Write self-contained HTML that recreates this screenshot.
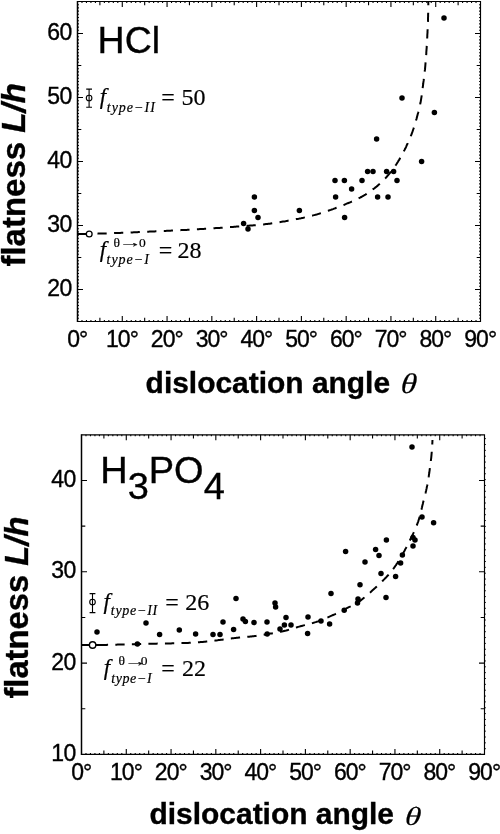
<!DOCTYPE html>
<html lang="en"><head><meta charset="utf-8"><title>flatness vs dislocation angle</title>
<style>
html,body{margin:0;padding:0;background:#fff;}
body{width:500px;height:834px;overflow:hidden;}
svg{display:block;}
text{fill:#000;stroke:#000;stroke-width:0.35px;}
.serif, .serif text{font-family:"Liberation Serif","Times New Roman",Times,serif;stroke-width:0.2px;}
</style></head><body>
<svg width="500" height="834" viewBox="0 0 500 834" font-family='"Liberation Sans", Arial, Helvetica, sans-serif'>
<rect width="500" height="834" fill="#fff"/>
<g id="top">
<path d="M81.98 321.50v-1.4M81.98 1.50v1.4M86.46 321.50v-1.4M86.46 1.50v1.4M90.93 321.50v-1.4M90.93 1.50v1.4M95.41 321.50v-1.4M95.41 1.50v1.4M99.89 321.50v-3.8M99.89 1.50v3.8M104.37 321.50v-1.4M104.37 1.50v1.4M108.84 321.50v-1.4M108.84 1.50v1.4M113.32 321.50v-1.4M113.32 1.50v1.4M117.80 321.50v-1.4M117.80 1.50v1.4M122.28 321.50v-5.5M122.28 1.50v5.5M126.76 321.50v-1.4M126.76 1.50v1.4M131.23 321.50v-1.4M131.23 1.50v1.4M135.71 321.50v-1.4M135.71 1.50v1.4M140.19 321.50v-1.4M140.19 1.50v1.4M144.67 321.50v-3.8M144.67 1.50v3.8M149.14 321.50v-1.4M149.14 1.50v1.4M153.62 321.50v-1.4M153.62 1.50v1.4M158.10 321.50v-1.4M158.10 1.50v1.4M162.58 321.50v-1.4M162.58 1.50v1.4M167.06 321.50v-5.5M167.06 1.50v5.5M171.53 321.50v-1.4M171.53 1.50v1.4M176.01 321.50v-1.4M176.01 1.50v1.4M180.49 321.50v-1.4M180.49 1.50v1.4M184.97 321.50v-1.4M184.97 1.50v1.4M189.44 321.50v-3.8M189.44 1.50v3.8M193.92 321.50v-1.4M193.92 1.50v1.4M198.40 321.50v-1.4M198.40 1.50v1.4M202.88 321.50v-1.4M202.88 1.50v1.4M207.36 321.50v-1.4M207.36 1.50v1.4M211.83 321.50v-5.5M211.83 1.50v5.5M216.31 321.50v-1.4M216.31 1.50v1.4M220.79 321.50v-1.4M220.79 1.50v1.4M225.27 321.50v-1.4M225.27 1.50v1.4M229.74 321.50v-1.4M229.74 1.50v1.4M234.22 321.50v-3.8M234.22 1.50v3.8M238.70 321.50v-1.4M238.70 1.50v1.4M243.18 321.50v-1.4M243.18 1.50v1.4M247.66 321.50v-1.4M247.66 1.50v1.4M252.13 321.50v-1.4M252.13 1.50v1.4M256.61 321.50v-5.5M256.61 1.50v5.5M261.09 321.50v-1.4M261.09 1.50v1.4M265.57 321.50v-1.4M265.57 1.50v1.4M270.04 321.50v-1.4M270.04 1.50v1.4M274.52 321.50v-1.4M274.52 1.50v1.4M279.00 321.50v-3.8M279.00 1.50v3.8M283.48 321.50v-1.4M283.48 1.50v1.4M287.96 321.50v-1.4M287.96 1.50v1.4M292.43 321.50v-1.4M292.43 1.50v1.4M296.91 321.50v-1.4M296.91 1.50v1.4M301.39 321.50v-5.5M301.39 1.50v5.5M305.87 321.50v-1.4M305.87 1.50v1.4M310.34 321.50v-1.4M310.34 1.50v1.4M314.82 321.50v-1.4M314.82 1.50v1.4M319.30 321.50v-1.4M319.30 1.50v1.4M323.78 321.50v-3.8M323.78 1.50v3.8M328.26 321.50v-1.4M328.26 1.50v1.4M332.73 321.50v-1.4M332.73 1.50v1.4M337.21 321.50v-1.4M337.21 1.50v1.4M341.69 321.50v-1.4M341.69 1.50v1.4M346.17 321.50v-5.5M346.17 1.50v5.5M350.64 321.50v-1.4M350.64 1.50v1.4M355.12 321.50v-1.4M355.12 1.50v1.4M359.60 321.50v-1.4M359.60 1.50v1.4M364.08 321.50v-1.4M364.08 1.50v1.4M368.56 321.50v-3.8M368.56 1.50v3.8M373.03 321.50v-1.4M373.03 1.50v1.4M377.51 321.50v-1.4M377.51 1.50v1.4M381.99 321.50v-1.4M381.99 1.50v1.4M386.47 321.50v-1.4M386.47 1.50v1.4M390.94 321.50v-5.5M390.94 1.50v5.5M395.42 321.50v-1.4M395.42 1.50v1.4M399.90 321.50v-1.4M399.90 1.50v1.4M404.38 321.50v-1.4M404.38 1.50v1.4M408.86 321.50v-1.4M408.86 1.50v1.4M413.33 321.50v-3.8M413.33 1.50v3.8M417.81 321.50v-1.4M417.81 1.50v1.4M422.29 321.50v-1.4M422.29 1.50v1.4M426.77 321.50v-1.4M426.77 1.50v1.4M431.24 321.50v-1.4M431.24 1.50v1.4M435.72 321.50v-5.5M435.72 1.50v5.5M440.20 321.50v-1.4M440.20 1.50v1.4M444.68 321.50v-1.4M444.68 1.50v1.4M449.16 321.50v-1.4M449.16 1.50v1.4M453.63 321.50v-1.4M453.63 1.50v1.4M458.11 321.50v-3.8M458.11 1.50v3.8M462.59 321.50v-1.4M462.59 1.50v1.4M467.07 321.50v-1.4M467.07 1.50v1.4M471.54 321.50v-1.4M471.54 1.50v1.4M476.02 321.50v-1.4M476.02 1.50v1.4M77.50 318.30h1.4M480.50 318.30h-1.4M77.50 315.10h1.4M480.50 315.10h-1.4M77.50 311.90h1.4M480.50 311.90h-1.4M77.50 308.70h1.4M480.50 308.70h-1.4M77.50 305.50h1.4M480.50 305.50h-1.4M77.50 302.30h1.4M480.50 302.30h-1.4M77.50 299.10h1.4M480.50 299.10h-1.4M77.50 295.90h1.4M480.50 295.90h-1.4M77.50 292.70h1.4M480.50 292.70h-1.4M77.50 289.50h5.5M480.50 289.50h-5.5M77.50 286.30h1.4M480.50 286.30h-1.4M77.50 283.10h1.4M480.50 283.10h-1.4M77.50 279.90h1.4M480.50 279.90h-1.4M77.50 276.70h1.4M480.50 276.70h-1.4M77.50 273.50h1.4M480.50 273.50h-1.4M77.50 270.30h1.4M480.50 270.30h-1.4M77.50 267.10h1.4M480.50 267.10h-1.4M77.50 263.90h1.4M480.50 263.90h-1.4M77.50 260.70h1.4M480.50 260.70h-1.4M77.50 257.50h3.8M480.50 257.50h-3.8M77.50 254.30h1.4M480.50 254.30h-1.4M77.50 251.10h1.4M480.50 251.10h-1.4M77.50 247.90h1.4M480.50 247.90h-1.4M77.50 244.70h1.4M480.50 244.70h-1.4M77.50 241.50h1.4M480.50 241.50h-1.4M77.50 238.30h1.4M480.50 238.30h-1.4M77.50 235.10h1.4M480.50 235.10h-1.4M77.50 231.90h1.4M480.50 231.90h-1.4M77.50 228.70h1.4M480.50 228.70h-1.4M77.50 225.50h5.5M480.50 225.50h-5.5M77.50 222.30h1.4M480.50 222.30h-1.4M77.50 219.10h1.4M480.50 219.10h-1.4M77.50 215.90h1.4M480.50 215.90h-1.4M77.50 212.70h1.4M480.50 212.70h-1.4M77.50 209.50h1.4M480.50 209.50h-1.4M77.50 206.30h1.4M480.50 206.30h-1.4M77.50 203.10h1.4M480.50 203.10h-1.4M77.50 199.90h1.4M480.50 199.90h-1.4M77.50 196.70h1.4M480.50 196.70h-1.4M77.50 193.50h3.8M480.50 193.50h-3.8M77.50 190.30h1.4M480.50 190.30h-1.4M77.50 187.10h1.4M480.50 187.10h-1.4M77.50 183.90h1.4M480.50 183.90h-1.4M77.50 180.70h1.4M480.50 180.70h-1.4M77.50 177.50h1.4M480.50 177.50h-1.4M77.50 174.30h1.4M480.50 174.30h-1.4M77.50 171.10h1.4M480.50 171.10h-1.4M77.50 167.90h1.4M480.50 167.90h-1.4M77.50 164.70h1.4M480.50 164.70h-1.4M77.50 161.50h5.5M480.50 161.50h-5.5M77.50 158.30h1.4M480.50 158.30h-1.4M77.50 155.10h1.4M480.50 155.10h-1.4M77.50 151.90h1.4M480.50 151.90h-1.4M77.50 148.70h1.4M480.50 148.70h-1.4M77.50 145.50h1.4M480.50 145.50h-1.4M77.50 142.30h1.4M480.50 142.30h-1.4M77.50 139.10h1.4M480.50 139.10h-1.4M77.50 135.90h1.4M480.50 135.90h-1.4M77.50 132.70h1.4M480.50 132.70h-1.4M77.50 129.50h3.8M480.50 129.50h-3.8M77.50 126.30h1.4M480.50 126.30h-1.4M77.50 123.10h1.4M480.50 123.10h-1.4M77.50 119.90h1.4M480.50 119.90h-1.4M77.50 116.70h1.4M480.50 116.70h-1.4M77.50 113.50h1.4M480.50 113.50h-1.4M77.50 110.30h1.4M480.50 110.30h-1.4M77.50 107.10h1.4M480.50 107.10h-1.4M77.50 103.90h1.4M480.50 103.90h-1.4M77.50 100.70h1.4M480.50 100.70h-1.4M77.50 97.50h5.5M480.50 97.50h-5.5M77.50 94.30h1.4M480.50 94.30h-1.4M77.50 91.10h1.4M480.50 91.10h-1.4M77.50 87.90h1.4M480.50 87.90h-1.4M77.50 84.70h1.4M480.50 84.70h-1.4M77.50 81.50h1.4M480.50 81.50h-1.4M77.50 78.30h1.4M480.50 78.30h-1.4M77.50 75.10h1.4M480.50 75.10h-1.4M77.50 71.90h1.4M480.50 71.90h-1.4M77.50 68.70h1.4M480.50 68.70h-1.4M77.50 65.50h3.8M480.50 65.50h-3.8M77.50 62.30h1.4M480.50 62.30h-1.4M77.50 59.10h1.4M480.50 59.10h-1.4M77.50 55.90h1.4M480.50 55.90h-1.4M77.50 52.70h1.4M480.50 52.70h-1.4M77.50 49.50h1.4M480.50 49.50h-1.4M77.50 46.30h1.4M480.50 46.30h-1.4M77.50 43.10h1.4M480.50 43.10h-1.4M77.50 39.90h1.4M480.50 39.90h-1.4M77.50 36.70h1.4M480.50 36.70h-1.4M77.50 33.50h5.5M480.50 33.50h-5.5M77.50 30.30h1.4M480.50 30.30h-1.4M77.50 27.10h1.4M480.50 27.10h-1.4M77.50 23.90h1.4M480.50 23.90h-1.4M77.50 20.70h1.4M480.50 20.70h-1.4M77.50 17.50h1.4M480.50 17.50h-1.4M77.50 14.30h1.4M480.50 14.30h-1.4M77.50 11.10h1.4M480.50 11.10h-1.4M77.50 7.90h1.4M480.50 7.90h-1.4M77.50 4.70h1.4M480.50 4.70h-1.4" stroke="#000" stroke-width="1.1" fill="none"/>
<path d="M77.5 1.5H480.5V321.5H77.5" fill="none" stroke="#000" stroke-width="1.15"/>
<path d="M77.5 0.9V322.1" fill="none" stroke="#000" stroke-width="1.5"/>
<text x="77.20" y="346.50" font-size="23" text-anchor="middle" letter-spacing="-1">0°</text>
<text x="121.98" y="346.50" font-size="23" text-anchor="middle" letter-spacing="-1">10°</text>
<text x="166.76" y="346.50" font-size="23" text-anchor="middle" letter-spacing="-1">20°</text>
<text x="211.53" y="346.50" font-size="23" text-anchor="middle" letter-spacing="-1">30°</text>
<text x="256.31" y="346.50" font-size="23" text-anchor="middle" letter-spacing="-1">40°</text>
<text x="301.09" y="346.50" font-size="23" text-anchor="middle" letter-spacing="-1">50°</text>
<text x="345.87" y="346.50" font-size="23" text-anchor="middle" letter-spacing="-1">60°</text>
<text x="390.64" y="346.50" font-size="23" text-anchor="middle" letter-spacing="-1">70°</text>
<text x="435.42" y="346.50" font-size="23" text-anchor="middle" letter-spacing="-1">80°</text>
<text x="480.20" y="346.50" font-size="23" text-anchor="middle" letter-spacing="-1">90°</text>
<text x="71.50" y="296.10" font-size="23" text-anchor="end" letter-spacing="-0.7">20</text>
<text x="71.50" y="232.10" font-size="23" text-anchor="end" letter-spacing="-0.7">30</text>
<text x="71.50" y="168.10" font-size="23" text-anchor="end" letter-spacing="-0.7">40</text>
<text x="71.50" y="104.10" font-size="23" text-anchor="end" letter-spacing="-0.7">50</text>
<text x="71.50" y="40.10" font-size="23" text-anchor="end" letter-spacing="-0.7">60</text>
<path d="M92.0 233.8 L93.2 233.8 L94.5 233.7 L95.7 233.7 L96.9 233.7 L98.1 233.6 L99.4 233.6 L100.6 233.6 L101.8 233.5 L103.0 233.5 L104.3 233.4 L105.5 233.4 L106.7 233.4 L108.0 233.3 L109.2 233.3 L110.4 233.2 L111.6 233.2 L112.9 233.2 L114.1 233.1 L115.3 233.1 L116.5 233.0 L117.8 233.0 L119.0 232.9 L120.2 232.9 L121.4 232.8 L122.7 232.8 L123.9 232.8 L125.1 232.7 L126.4 232.7 L127.6 232.6 L128.8 232.5 L130.0 232.5 L131.3 232.4 L132.5 232.4 L133.7 232.3 L134.9 232.3 L136.2 232.2 L137.4 232.2 L138.6 232.1 L139.8 232.1 L141.1 232.0 L142.3 231.9 L143.5 231.9 L144.8 231.8 L146.0 231.8 L147.2 231.7 L148.4 231.7 L149.7 231.6 L150.9 231.6 L152.1 231.5 L153.3 231.5 L154.6 231.4 L155.8 231.3 L157.0 231.3 L158.2 231.2 L159.5 231.2 L160.7 231.1 L161.9 231.1 L163.2 231.0 L164.4 231.0 L165.6 230.9 L166.8 230.8 L168.1 230.8 L169.3 230.7 L170.5 230.7 L171.7 230.6 L173.0 230.5 L174.2 230.5 L175.4 230.4 L176.6 230.4 L177.9 230.3 L179.1 230.2 L180.3 230.2 L181.5 230.1 L182.8 230.1 L184.0 230.0 L185.2 229.9 L186.5 229.9 L187.7 229.8 L188.9 229.7 L190.1 229.7 L191.4 229.6 L192.6 229.5 L193.8 229.5 L195.0 229.4 L196.3 229.3 L197.5 229.3 L198.7 229.2 L199.9 229.1 L201.2 229.1 L202.4 229.0 L203.6 228.9 L204.8 228.8 L206.1 228.8 L207.3 228.7 L208.5 228.6 L209.7 228.5 L211.0 228.5 L212.2 228.4 L213.4 228.3 L214.6 228.2 L215.9 228.1 L217.1 228.1 L218.3 228.0 L219.5 227.9 L220.8 227.8 L222.0 227.7 L223.2 227.6 L224.4 227.5 L225.7 227.4 L226.9 227.3 L228.1 227.2 L229.3 227.1 L230.6 227.1 L231.8 227.0 L233.0 226.9 L234.2 226.8 L235.5 226.7 L236.7 226.6 L237.9 226.5 L239.1 226.4 L240.4 226.3 L241.6 226.2 L242.8 226.2 L244.0 226.1 L245.3 226.0 L246.5 225.9 L247.7 225.8 L248.9 225.7 L250.1 225.6 L251.4 225.5 L252.6 225.4 L253.8 225.3 L255.0 225.2 L256.3 225.1 L257.5 225.0 L258.7 224.9 L259.9 224.7 L261.2 224.6 L262.4 224.5 L263.6 224.4 L264.8 224.2 L266.0 224.1 L267.3 224.0 L268.5 223.8 L269.7 223.7 L270.9 223.5 L272.1 223.3 L273.3 223.1 L274.6 223.0 L275.8 222.8 L277.0 222.6 L278.2 222.4 L279.4 222.2 L280.6 222.0 L281.8 221.8 L283.0 221.6 L284.2 221.4 L285.5 221.2 L286.7 220.9 L287.9 220.7 L289.1 220.5 L290.3 220.3 L291.5 220.1 L292.7 219.8 L293.9 219.6 L295.1 219.4 L296.3 219.1 L297.5 218.9 L298.7 218.7 L299.9 218.4 L301.1 218.2 L302.3 217.9 L303.5 217.7 L304.7 217.4 L305.9 217.1 L307.1 216.9 L308.3 216.6 L309.5 216.3 L310.7 216.0 L311.9 215.7 L313.1 215.4 L314.3 215.1 L315.5 214.8 L316.7 214.5 L317.8 214.1 L319.0 213.8 L320.2 213.4 L321.4 213.1 L322.5 212.7 L323.7 212.3 L324.9 211.9 L326.0 211.5 L327.2 211.1 L328.3 210.7 L329.5 210.3 L330.7 209.9 L331.8 209.5 L333.0 209.1 L334.1 208.6 L335.3 208.2 L336.4 207.8 L337.6 207.4 L338.7 206.9 L339.9 206.5 L341.0 206.0 L342.2 205.6 L343.3 205.1 L344.4 204.7 L345.6 204.2 L346.7 203.7 L347.8 203.2 L349.0 202.8 L350.1 202.3 L351.2 201.8 L352.4 201.3 L353.5 200.8 L354.6 200.3 L355.7 199.7 L356.8 199.2 L357.9 198.7 L359.0 198.1 L360.1 197.6 L361.2 197.0 L362.3 196.4 L363.3 195.8 L364.4 195.2 L365.4 194.6 L366.5 193.9 L367.5 193.2 L368.5 192.6 L369.6 191.9 L370.6 191.1 L371.6 190.4 L372.6 189.7 L373.5 188.9 L374.5 188.2 L375.5 187.4 L376.4 186.7 L377.4 185.9 L378.3 185.1 L379.2 184.3 L380.1 183.4 L381.0 182.6 L381.9 181.8 L382.8 180.9 L383.7 180.0 L384.5 179.1 L385.4 178.3 L386.2 177.4 L387.0 176.5 L387.8 175.5 L388.6 174.6 L389.4 173.7 L390.2 172.7 L391.0 171.7 L391.7 170.8 L392.5 169.8 L393.2 168.8 L393.9 167.8 L394.6 166.8 L395.3 165.8 L396.0 164.8 L396.7 163.7 L397.3 162.7 L398.0 161.7 L398.6 160.6 L399.3 159.6 L399.9 158.5 L400.5 157.4 L401.1 156.4 L401.7 155.3 L402.3 154.2 L402.9 153.1 L403.5 152.0 L404.0 151.0 L404.6 149.9 L405.1 148.8 L405.7 147.7 L406.2 146.6 L406.7 145.4 L407.2 144.3 L407.8 143.2 L408.3 142.1 L408.8 141.0 L409.3 139.8 L409.7 138.7 L410.2 137.6 L410.7 136.4 L411.1 135.3 L411.6 134.2 L412.0 133.0 L412.4 131.9 L412.8 130.7 L413.2 129.5 L413.6 128.4 L414.0 127.2 L414.4 126.0 L414.7 124.9 L415.1 123.7 L415.4 122.5 L415.8 121.3 L416.1 120.1 L416.5 119.0 L416.8 117.8 L417.1 116.6 L417.4 115.4 L417.7 114.2 L418.1 113.0 L418.4 111.8 L418.7 110.7 L419.0 109.5 L419.3 108.3 L419.5 107.1 L419.8 105.9 L420.1 104.7 L420.3 103.5 L420.6 102.3 L420.8 101.1 L421.0 99.9 L421.2 98.7 L421.4 97.4 L421.6 96.2 L421.8 95.0 L422.0 93.8 L422.1 92.6 L422.3 91.4 L422.4 90.1 L422.6 88.9 L422.7 87.7 L422.9 86.5 L423.0 85.3 L423.2 84.0 L423.3 82.8 L423.5 81.6 L423.7 80.4 L423.8 79.2 L424.0 78.0 L424.1 76.7 L424.3 75.5 L424.4 74.3 L424.6 73.1 L424.7 71.9 L424.8 70.6 L425.0 69.4 L425.1 68.2 L425.2 67.0 L425.3 65.8 L425.4 64.5 L425.5 63.3 L425.6 62.1 L425.7 60.9 L425.8 59.6 L425.9 58.4 L426.0 57.2 L426.1 56.0 L426.2 54.7 L426.3 53.5 L426.3 52.3 L426.4 51.1 L426.5 49.8 L426.6 48.6 L426.7 47.4 L426.7 46.2 L426.8 44.9 L426.9 43.7 L427.0 42.5 L427.0 41.3 L427.1 40.0 L427.2 38.8 L427.2 37.6 L427.3 36.4 L427.3 35.1 L427.4 33.9 L427.5 32.7 L427.5 31.5 L427.6 30.2 L427.6 29.0 L427.7 27.8 L427.8 26.5 L427.8 25.3 L427.9 24.1 L427.9 22.9 L428.0 21.6 L428.0 20.4 L428.0 19.2 L428.0 18.0 L428.1 16.7 L428.1 15.5 L428.1 14.3 L428.2 13.0 L428.2 11.8 L428.2 10.6 L428.2 9.4 L428.2 8.1 L428.3 6.9 L428.3 5.7 L428.3 4.5 L428.3 3.2 L428.3 2.0" fill="none" stroke="#000" stroke-width="2" stroke-dasharray="9.2 7.4" stroke-dashoffset="-5.5"/>
<path d="M77.5 234H86" stroke="#000" stroke-width="2" fill="none"/>
<circle cx="89.2" cy="234" r="2.9" fill="#fff" stroke="#000" stroke-width="1.3"/>
<g fill="#000"><circle cx="254.4" cy="197" r="2.75"/><circle cx="254.4" cy="210.6" r="2.75"/><circle cx="258" cy="217.6" r="2.75"/><circle cx="243.6" cy="223.6" r="2.75"/><circle cx="248" cy="229" r="2.75"/><circle cx="299.4" cy="210.6" r="2.75"/><circle cx="376.6" cy="139" r="2.75"/><circle cx="367.6" cy="171.6" r="2.75"/><circle cx="373" cy="171.6" r="2.75"/><circle cx="386.6" cy="171.6" r="2.75"/><circle cx="393.6" cy="171.6" r="2.75"/><circle cx="335" cy="180.6" r="2.75"/><circle cx="344.4" cy="180.6" r="2.75"/><circle cx="362" cy="180.6" r="2.75"/><circle cx="397" cy="180.6" r="2.75"/><circle cx="351.6" cy="189" r="2.75"/><circle cx="335.6" cy="197" r="2.75"/><circle cx="377.6" cy="197" r="2.75"/><circle cx="388" cy="197" r="2.75"/><circle cx="344.6" cy="217.4" r="2.75"/><circle cx="402" cy="98" r="2.75"/><circle cx="434.4" cy="112.6" r="2.75"/><circle cx="421.6" cy="161.6" r="2.75"/><circle cx="444" cy="18" r="2.75"/></g>
<circle cx="89.1" cy="98" r="2.8" fill="#fff" stroke="#000" stroke-width="1.1"/>
<path d="M89.1 89.1V107.3M86.2 89.1h5.8M86.2 107.3h5.8" stroke="#000" stroke-width="1.1" fill="none"/>
<text x="97.6" y="52.6" font-size="37.5" textLength="62.5" lengthAdjust="spacingAndGlyphs">HCl</text>
<g class="serif">
<text x="99.8" y="104.2" font-size="23" font-style="italic">f</text>
<text x="106.8" y="111.5" font-size="14" font-style="italic" textLength="48.0" lengthAdjust="spacing">type−II</text>
<text x="161.2" y="105" font-size="24">=</text>
<text x="181.6" y="105" font-size="24">50</text>
</g>
<g class="serif">
<text x="99.8" y="256.7" font-size="23" font-style="italic">f</text>
<text x="106.6" y="264" font-size="14" font-style="italic" textLength="42.2" lengthAdjust="spacing">type−I</text>
<text x="113.4" y="246.6" font-size="13.5">θ</text>
<text transform="translate(118.6 247.4) scale(1.7 1)" font-size="13.5" stroke-width="0.1">→</text>
<text x="145.8" y="246.6" font-size="13.5" text-anchor="end">0</text>
<text x="158.8" y="257.5" font-size="24">=</text>
<text x="177.4" y="257.5" font-size="24">28</text>
</g>
<text transform="translate(24.8 266.6) rotate(-90)" font-size="33" font-weight="bold" textLength="183.4" lengthAdjust="spacingAndGlyphs">flatness <tspan font-style="italic">L/h</tspan></text>
<text x="145.6" y="393" font-size="30" font-weight="bold" textLength="244.5" lengthAdjust="spacingAndGlyphs">dislocation angle</text>
<text transform="translate(400.3 393.3) skewX(-5) scale(1.12 0.98)" font-size="29" font-style="italic" class="serif">θ</text>
</g>
<g id="bottom">
<path d="M85.98 754.40v-1.4M85.98 434.80v1.4M90.46 754.40v-1.4M90.46 434.80v1.4M94.93 754.40v-1.4M94.93 434.80v1.4M99.41 754.40v-1.4M99.41 434.80v1.4M103.89 754.40v-3.8M103.89 434.80v3.8M108.37 754.40v-1.4M108.37 434.80v1.4M112.84 754.40v-1.4M112.84 434.80v1.4M117.32 754.40v-1.4M117.32 434.80v1.4M121.80 754.40v-1.4M121.80 434.80v1.4M126.28 754.40v-5.5M126.28 434.80v5.5M130.76 754.40v-1.4M130.76 434.80v1.4M135.23 754.40v-1.4M135.23 434.80v1.4M139.71 754.40v-1.4M139.71 434.80v1.4M144.19 754.40v-1.4M144.19 434.80v1.4M148.67 754.40v-3.8M148.67 434.80v3.8M153.14 754.40v-1.4M153.14 434.80v1.4M157.62 754.40v-1.4M157.62 434.80v1.4M162.10 754.40v-1.4M162.10 434.80v1.4M166.58 754.40v-1.4M166.58 434.80v1.4M171.06 754.40v-5.5M171.06 434.80v5.5M175.53 754.40v-1.4M175.53 434.80v1.4M180.01 754.40v-1.4M180.01 434.80v1.4M184.49 754.40v-1.4M184.49 434.80v1.4M188.97 754.40v-1.4M188.97 434.80v1.4M193.44 754.40v-3.8M193.44 434.80v3.8M197.92 754.40v-1.4M197.92 434.80v1.4M202.40 754.40v-1.4M202.40 434.80v1.4M206.88 754.40v-1.4M206.88 434.80v1.4M211.36 754.40v-1.4M211.36 434.80v1.4M215.83 754.40v-5.5M215.83 434.80v5.5M220.31 754.40v-1.4M220.31 434.80v1.4M224.79 754.40v-1.4M224.79 434.80v1.4M229.27 754.40v-1.4M229.27 434.80v1.4M233.74 754.40v-1.4M233.74 434.80v1.4M238.22 754.40v-3.8M238.22 434.80v3.8M242.70 754.40v-1.4M242.70 434.80v1.4M247.18 754.40v-1.4M247.18 434.80v1.4M251.66 754.40v-1.4M251.66 434.80v1.4M256.13 754.40v-1.4M256.13 434.80v1.4M260.61 754.40v-5.5M260.61 434.80v5.5M265.09 754.40v-1.4M265.09 434.80v1.4M269.57 754.40v-1.4M269.57 434.80v1.4M274.04 754.40v-1.4M274.04 434.80v1.4M278.52 754.40v-1.4M278.52 434.80v1.4M283.00 754.40v-3.8M283.00 434.80v3.8M287.48 754.40v-1.4M287.48 434.80v1.4M291.96 754.40v-1.4M291.96 434.80v1.4M296.43 754.40v-1.4M296.43 434.80v1.4M300.91 754.40v-1.4M300.91 434.80v1.4M305.39 754.40v-5.5M305.39 434.80v5.5M309.87 754.40v-1.4M309.87 434.80v1.4M314.34 754.40v-1.4M314.34 434.80v1.4M318.82 754.40v-1.4M318.82 434.80v1.4M323.30 754.40v-1.4M323.30 434.80v1.4M327.78 754.40v-3.8M327.78 434.80v3.8M332.26 754.40v-1.4M332.26 434.80v1.4M336.73 754.40v-1.4M336.73 434.80v1.4M341.21 754.40v-1.4M341.21 434.80v1.4M345.69 754.40v-1.4M345.69 434.80v1.4M350.17 754.40v-5.5M350.17 434.80v5.5M354.64 754.40v-1.4M354.64 434.80v1.4M359.12 754.40v-1.4M359.12 434.80v1.4M363.60 754.40v-1.4M363.60 434.80v1.4M368.08 754.40v-1.4M368.08 434.80v1.4M372.56 754.40v-3.8M372.56 434.80v3.8M377.03 754.40v-1.4M377.03 434.80v1.4M381.51 754.40v-1.4M381.51 434.80v1.4M385.99 754.40v-1.4M385.99 434.80v1.4M390.47 754.40v-1.4M390.47 434.80v1.4M394.94 754.40v-5.5M394.94 434.80v5.5M399.42 754.40v-1.4M399.42 434.80v1.4M403.90 754.40v-1.4M403.90 434.80v1.4M408.38 754.40v-1.4M408.38 434.80v1.4M412.86 754.40v-1.4M412.86 434.80v1.4M417.33 754.40v-3.8M417.33 434.80v3.8M421.81 754.40v-1.4M421.81 434.80v1.4M426.29 754.40v-1.4M426.29 434.80v1.4M430.77 754.40v-1.4M430.77 434.80v1.4M435.24 754.40v-1.4M435.24 434.80v1.4M439.72 754.40v-5.5M439.72 434.80v5.5M444.20 754.40v-1.4M444.20 434.80v1.4M448.68 754.40v-1.4M448.68 434.80v1.4M453.16 754.40v-1.4M453.16 434.80v1.4M457.63 754.40v-1.4M457.63 434.80v1.4M462.11 754.40v-3.8M462.11 434.80v3.8M466.59 754.40v-1.4M466.59 434.80v1.4M471.07 754.40v-1.4M471.07 434.80v1.4M475.54 754.40v-1.4M475.54 434.80v1.4M480.02 754.40v-1.4M480.02 434.80v1.4M81.50 708.74h3.8M484.50 708.74h-3.8M81.50 663.09h5.5M484.50 663.09h-5.5M81.50 617.43h3.8M484.50 617.43h-3.8M81.50 571.77h5.5M484.50 571.77h-5.5M81.50 526.11h3.8M484.50 526.11h-3.8M81.50 480.46h5.5M484.50 480.46h-5.5" stroke="#000" stroke-width="1.1" fill="none"/>
<path d="M81.5 434.8H484.5V754.4H81.5" fill="none" stroke="#000" stroke-width="1.15"/>
<path d="M81.5 434.2V755.0" fill="none" stroke="#000" stroke-width="1.5"/>
<text x="81.20" y="780.30" font-size="23" text-anchor="middle" letter-spacing="-1">0°</text>
<text x="125.98" y="780.30" font-size="23" text-anchor="middle" letter-spacing="-1">10°</text>
<text x="170.76" y="780.30" font-size="23" text-anchor="middle" letter-spacing="-1">20°</text>
<text x="215.53" y="780.30" font-size="23" text-anchor="middle" letter-spacing="-1">30°</text>
<text x="260.31" y="780.30" font-size="23" text-anchor="middle" letter-spacing="-1">40°</text>
<text x="305.09" y="780.30" font-size="23" text-anchor="middle" letter-spacing="-1">50°</text>
<text x="349.87" y="780.30" font-size="23" text-anchor="middle" letter-spacing="-1">60°</text>
<text x="394.64" y="780.30" font-size="23" text-anchor="middle" letter-spacing="-1">70°</text>
<text x="439.42" y="780.30" font-size="23" text-anchor="middle" letter-spacing="-1">80°</text>
<text x="484.20" y="780.30" font-size="23" text-anchor="middle" letter-spacing="-1">90°</text>
<text x="75.50" y="761.00" font-size="23" text-anchor="end" letter-spacing="-0.7">10</text>
<text x="75.50" y="669.69" font-size="23" text-anchor="end" letter-spacing="-0.7">20</text>
<text x="75.50" y="578.37" font-size="23" text-anchor="end" letter-spacing="-0.7">30</text>
<text x="75.50" y="487.06" font-size="23" text-anchor="end" letter-spacing="-0.7">40</text>
<path d="M484.5 438.65h1.3M484.5 444.50h1.3M484.5 450.35h1.3M484.5 456.20h1.3M484.5 462.05h1.3M484.5 467.90h1.3M484.5 473.75h1.3M484.5 479.60h1.3M484.5 485.45h1.3M484.5 491.30h1.3M484.5 497.15h1.3M484.5 503.00h1.3M484.5 508.85h1.3M484.5 514.70h1.3M484.5 520.55h1.3M484.5 526.40h1.3M484.5 532.25h1.3M484.5 538.10h1.3M484.5 543.95h1.3M484.5 549.80h1.3M484.5 555.65h1.3M484.5 561.50h1.3M484.5 567.35h1.3M484.5 573.20h1.3M484.5 579.05h1.3M484.5 584.90h1.3M484.5 590.75h1.3M484.5 596.60h1.3M484.5 602.45h1.3M484.5 608.30h1.3M484.5 614.15h1.3M484.5 620.00h1.3M484.5 625.85h1.3M484.5 631.70h1.3M484.5 637.55h1.3M484.5 643.40h1.3M484.5 649.25h1.3M484.5 655.10h1.3M484.5 660.95h1.3M484.5 666.80h1.3M484.5 672.65h1.3M484.5 678.50h1.3M484.5 684.35h1.3M484.5 690.20h1.3M484.5 696.05h1.3M484.5 701.90h1.3M484.5 707.75h1.3M484.5 713.60h1.3M484.5 719.45h1.3M484.5 725.30h1.3M484.5 731.15h1.3M484.5 737.00h1.3M484.5 742.85h1.3M484.5 748.70h1.3" stroke="#000" stroke-width="1" fill="none"/>
<path d="M96.0 645.0 L97.1 645.0 L98.3 645.0 L99.4 645.0 L100.5 644.9 L101.7 644.9 L102.8 644.9 L104.0 644.9 L105.1 644.9 L106.2 644.9 L107.4 644.8 L108.5 644.8 L109.6 644.8 L110.8 644.8 L111.9 644.8 L113.1 644.7 L114.2 644.7 L115.3 644.7 L116.5 644.7 L117.6 644.6 L118.7 644.6 L119.9 644.6 L121.0 644.6 L122.2 644.6 L123.3 644.5 L124.4 644.5 L125.6 644.5 L126.7 644.4 L127.8 644.4 L129.0 644.4 L130.1 644.4 L131.3 644.3 L132.4 644.3 L133.5 644.3 L134.7 644.2 L135.8 644.2 L136.9 644.2 L138.1 644.1 L139.2 644.1 L140.3 644.1 L141.5 644.0 L142.6 644.0 L143.8 644.0 L144.9 643.9 L146.0 643.9 L147.2 643.9 L148.3 643.8 L149.4 643.8 L150.6 643.8 L151.7 643.8 L152.9 643.7 L154.0 643.7 L155.1 643.7 L156.3 643.7 L157.4 643.6 L158.5 643.6 L159.7 643.6 L160.8 643.6 L162.0 643.5 L163.1 643.5 L164.2 643.5 L165.4 643.5 L166.5 643.5 L167.6 643.4 L168.8 643.4 L169.9 643.4 L171.1 643.4 L172.2 643.3 L173.3 643.3 L174.5 643.3 L175.6 643.3 L176.7 643.2 L177.9 643.2 L179.0 643.2 L180.2 643.2 L181.3 643.1 L182.4 643.1 L183.6 643.0 L184.7 643.0 L185.8 643.0 L187.0 642.9 L188.1 642.9 L189.2 642.8 L190.4 642.8 L191.5 642.7 L192.7 642.6 L193.8 642.6 L194.9 642.5 L196.1 642.4 L197.2 642.4 L198.3 642.3 L199.5 642.2 L200.6 642.1 L201.7 642.0 L202.9 641.9 L204.0 641.8 L205.1 641.7 L206.3 641.6 L207.4 641.5 L208.5 641.4 L209.6 641.2 L210.8 641.1 L211.9 641.0 L213.0 640.8 L214.2 640.7 L215.3 640.5 L216.4 640.4 L217.6 640.3 L218.7 640.1 L219.8 640.0 L220.9 639.8 L222.1 639.7 L223.2 639.5 L224.3 639.4 L225.5 639.2 L226.6 639.1 L227.7 638.9 L228.8 638.8 L230.0 638.6 L231.1 638.5 L232.2 638.3 L233.3 638.2 L234.5 638.1 L235.6 637.9 L236.7 637.8 L237.9 637.7 L239.0 637.6 L240.1 637.5 L241.3 637.4 L242.4 637.3 L243.5 637.2 L244.7 637.1 L245.8 637.0 L246.9 636.9 L248.1 636.8 L249.2 636.7 L250.3 636.6 L251.5 636.5 L252.6 636.3 L253.7 636.2 L254.8 636.0 L256.0 635.9 L257.1 635.7 L258.2 635.6 L259.3 635.4 L260.5 635.2 L261.6 635.1 L262.7 634.9 L263.8 634.7 L265.0 634.5 L266.1 634.3 L267.2 634.1 L268.3 633.9 L269.5 633.8 L270.6 633.6 L271.7 633.4 L272.8 633.2 L273.9 633.0 L275.1 632.8 L276.2 632.6 L277.3 632.4 L278.4 632.2 L279.5 631.9 L280.7 631.7 L281.8 631.5 L282.9 631.3 L284.0 631.0 L285.1 630.7 L286.2 630.5 L287.3 630.2 L288.4 629.9 L289.5 629.6 L290.6 629.2 L291.7 628.9 L292.7 628.6 L293.8 628.2 L294.9 627.9 L296.0 627.6 L297.1 627.2 L298.2 626.9 L299.3 626.6 L300.4 626.3 L301.5 626.0 L302.6 625.7 L303.7 625.4 L304.8 625.1 L305.9 624.8 L307.0 624.6 L308.1 624.3 L309.2 624.0 L310.3 623.7 L311.4 623.4 L312.5 623.1 L313.6 622.8 L314.7 622.4 L315.7 622.1 L316.8 621.7 L317.9 621.4 L319.0 621.0 L320.0 620.6 L321.1 620.2 L322.1 619.7 L323.2 619.3 L324.3 618.9 L325.3 618.4 L326.4 618.0 L327.4 617.5 L328.4 617.1 L329.5 616.6 L330.5 616.2 L331.6 615.7 L332.6 615.2 L333.6 614.8 L334.7 614.3 L335.7 613.8 L336.7 613.3 L337.7 612.8 L338.7 612.3 L339.8 611.8 L340.8 611.2 L341.8 610.7 L342.8 610.2 L343.8 609.7 L344.8 609.2 L345.9 608.7 L346.9 608.2 L347.9 607.7 L348.9 607.2 L350.0 606.7 L351.0 606.2 L352.0 605.7 L353.0 605.2 L354.1 604.7 L355.1 604.1 L356.0 603.6 L357.0 603.0 L358.0 602.4 L358.9 601.8 L359.8 601.1 L360.7 600.4 L361.6 599.7 L362.5 599.0 L363.4 598.3 L364.3 597.6 L365.2 596.8 L366.1 596.1 L366.9 595.4 L367.8 594.6 L368.6 593.9 L369.5 593.1 L370.3 592.4 L371.2 591.6 L372.0 590.8 L372.8 590.1 L373.7 589.3 L374.5 588.5 L375.4 587.8 L376.2 587.0 L377.1 586.2 L377.9 585.5 L378.7 584.7 L379.6 583.9 L380.4 583.1 L381.2 582.3 L382.0 581.5 L382.8 580.7 L383.6 579.9 L384.4 579.1 L385.2 578.3 L386.0 577.5 L386.8 576.6 L387.5 575.8 L388.3 575.0 L389.1 574.1 L389.8 573.2 L390.5 572.4 L391.2 571.5 L391.9 570.6 L392.6 569.7 L393.3 568.8 L394.0 567.9 L394.7 566.9 L395.3 566.0 L396.0 565.1 L396.6 564.1 L397.2 563.2 L397.8 562.2 L398.4 561.2 L399.0 560.3 L399.6 559.3 L400.2 558.3 L400.7 557.3 L401.3 556.3 L401.9 555.4 L402.4 554.4 L403.0 553.4 L403.6 552.4 L404.1 551.4 L404.7 550.4 L405.2 549.4 L405.7 548.4 L406.3 547.4 L406.8 546.4 L407.3 545.4 L407.8 544.4 L408.4 543.3 L408.9 542.3 L409.4 541.3 L409.9 540.3 L410.4 539.3 L410.9 538.2 L411.4 537.2 L411.9 536.2 L412.4 535.2 L412.9 534.2 L413.4 533.1 L413.8 532.1 L414.3 531.1 L414.8 530.0 L415.2 529.0 L415.7 527.9 L416.1 526.9 L416.5 525.8 L417.0 524.8 L417.4 523.7 L417.8 522.6 L418.2 521.6 L418.5 520.5 L418.9 519.4 L419.2 518.3 L419.5 517.2 L419.8 516.1 L420.1 515.0 L420.4 513.9 L420.7 512.8 L420.9 511.7 L421.2 510.6 L421.5 509.5 L421.7 508.4 L422.0 507.3 L422.2 506.2 L422.5 505.1 L422.8 504.0 L423.0 502.9 L423.3 501.8 L423.6 500.7 L423.9 499.6 L424.2 498.5 L424.4 497.3 L424.7 496.2 L425.0 495.1 L425.3 494.0 L425.6 492.9 L425.8 491.8 L426.1 490.7 L426.3 489.6 L426.6 488.5 L426.8 487.4 L427.0 486.3 L427.3 485.2 L427.5 484.0 L427.7 482.9 L427.9 481.8 L428.1 480.7 L428.2 479.6 L428.4 478.4 L428.6 477.3 L428.8 476.2 L428.9 475.1 L429.1 473.9 L429.3 472.8 L429.4 471.7 L429.6 470.6 L429.7 469.4 L429.9 468.3 L430.0 467.2 L430.2 466.1 L430.3 464.9 L430.5 463.8 L430.6 462.7 L430.8 461.5 L430.9 460.4 L431.0 459.3 L431.2 458.1 L431.3 457.0 L431.4 455.9 L431.5 454.8 L431.6 453.6 L431.7 452.5 L431.8 451.4 L431.9 450.2 L432.0 449.1 L432.0 448.0 L432.1 446.8 L432.2 445.7 L432.3 444.5 L432.3 443.4 L432.4 442.3 L432.4 441.1 L432.5 440.0" fill="none" stroke="#000" stroke-width="2" stroke-dasharray="9.3 7.25" stroke-dashoffset="-2.8"/>
<path d="M81.5 645H107" stroke="#000" stroke-width="2" fill="none"/>
<circle cx="92.6" cy="645" r="3.2" fill="#fff" stroke="#000" stroke-width="1.4"/>
<g fill="#000"><circle cx="97" cy="632" r="2.75"/><circle cx="146" cy="623" r="2.75"/><circle cx="159.6" cy="634.4" r="2.75"/><circle cx="137.4" cy="644" r="2.75"/><circle cx="179.3" cy="630" r="2.75"/><circle cx="195.6" cy="634" r="2.75"/><circle cx="213" cy="634.4" r="2.75"/><circle cx="220" cy="634.4" r="2.75"/><circle cx="223" cy="622" r="2.75"/><circle cx="233.6" cy="629.4" r="2.75"/><circle cx="236" cy="598.4" r="2.75"/><circle cx="243" cy="619" r="2.75"/><circle cx="245.4" cy="621.4" r="2.75"/><circle cx="254" cy="622.6" r="2.75"/><circle cx="267" cy="622" r="2.75"/><circle cx="267.2" cy="634" r="2.75"/><circle cx="275" cy="603" r="2.75"/><circle cx="275.6" cy="607" r="2.75"/><circle cx="286" cy="617.6" r="2.75"/><circle cx="284.4" cy="625" r="2.75"/><circle cx="280" cy="629" r="2.75"/><circle cx="291" cy="625" r="2.75"/><circle cx="308" cy="617" r="2.75"/><circle cx="307.6" cy="633.6" r="2.75"/><circle cx="321" cy="621" r="2.75"/><circle cx="329.6" cy="624" r="2.75"/><circle cx="331" cy="593.6" r="2.75"/><circle cx="344.2" cy="610.2" r="2.75"/><circle cx="358" cy="599" r="2.75"/><circle cx="357.5" cy="603" r="2.75"/><circle cx="360" cy="584.8" r="2.75"/><circle cx="345.6" cy="551.6" r="2.75"/><circle cx="386.4" cy="540" r="2.75"/><circle cx="375.6" cy="549.4" r="2.75"/><circle cx="379" cy="555.4" r="2.75"/><circle cx="365" cy="562" r="2.75"/><circle cx="381" cy="573.6" r="2.75"/><circle cx="395.6" cy="576.4" r="2.75"/><circle cx="386" cy="597.4" r="2.75"/><circle cx="402.4" cy="555" r="2.75"/><circle cx="400.6" cy="563" r="2.75"/><circle cx="413" cy="537.6" r="2.75"/><circle cx="415" cy="540" r="2.75"/><circle cx="413" cy="546" r="2.75"/><circle cx="433.6" cy="522.8" r="2.75"/><circle cx="422" cy="517" r="2.75"/><circle cx="412" cy="447" r="2.75"/></g>
<circle cx="92.5" cy="602" r="2.8" fill="#fff" stroke="#000" stroke-width="1.1"/>
<path d="M92.5 593.6V612.6M89.6 593.6h5.8M89.6 612.6h5.8" stroke="#000" stroke-width="1.1" fill="none"/>
<text x="100.2" y="483" font-size="37" textLength="124.6" lengthAdjust="spacingAndGlyphs">H<tspan dy="15.5">3</tspan><tspan dy="-15.5">PO</tspan><tspan dy="15.5">4</tspan></text>
<g class="serif">
<text x="103.6" y="609.0" font-size="23" font-style="italic">f</text>
<text x="110.8" y="614.6" font-size="14" font-style="italic" textLength="46.4" lengthAdjust="spacing">type−II</text>
<text x="165.3" y="609.8" font-size="24">=</text>
<text x="185.2" y="609.8" font-size="24">26</text>
</g>
<g class="serif">
<text x="103.8" y="675.2" font-size="23" font-style="italic">f</text>
<text x="111.2" y="682.6" font-size="14" font-style="italic" textLength="40.4" lengthAdjust="spacing">type−I</text>
<text x="118.6" y="665.4" font-size="13.5">θ</text>
<text transform="translate(123.8 666.2) scale(1.7 1)" font-size="13.5" stroke-width="0.1">→</text>
<text x="147.4" y="665.4" font-size="13.5" text-anchor="end">0</text>
<text x="161.2" y="676" font-size="24">=</text>
<text x="182" y="676" font-size="24">22</text>
</g>
<text transform="translate(28.4 698.6) rotate(-90)" font-size="33" font-weight="bold" textLength="182" lengthAdjust="spacingAndGlyphs">flatness <tspan font-style="italic">L/h</tspan></text>
<text x="149.5" y="823.6" font-size="30" font-weight="bold" textLength="244.5" lengthAdjust="spacingAndGlyphs">dislocation angle</text>
<text transform="translate(404.6 824.6) skewX(-5) scale(1.12 0.9)" font-size="29" font-style="italic" class="serif">θ</text>
</g>
</svg></body></html>
